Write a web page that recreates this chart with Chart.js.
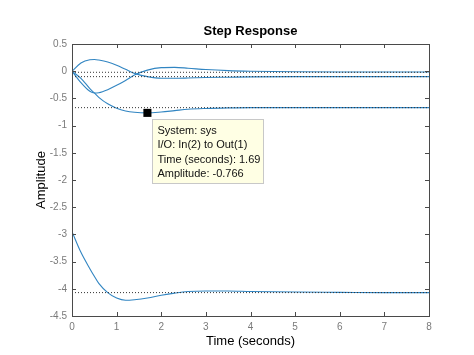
<!DOCTYPE html>
<html><head><meta charset="utf-8">
<script src="https://cdn.jsdelivr.net/npm/chart.js@4"></script>
<style>html,body{margin:0;padding:0;background:#fff;}#wrap{width:474px;height:355px;position:relative;}</style>
</head><body><div id="wrap"><canvas id="c" width="474" height="355"></canvas></div>
<script>
const times   = [0, 0.2, 0.4, 0.5, 0.6, 0.8, 1.0, 1.2, 1.4, 1.69, 2.0, 2.3, 2.6, 3.0, 3.5, 4, 5, 6, 7, 8];
const seriesA = [0, 0.15, 0.21, 0.215, 0.205, 0.17, 0.11, 0.035, -0.04, -0.10, -0.13, -0.13, -0.125, -0.115, -0.11, -0.105, -0.10, -0.10, -0.10, -0.10];
const seriesB = [0, -0.21, -0.37, -0.40, -0.395, -0.34, -0.26, -0.17, -0.07, 0.02, 0.065, 0.07, 0.055, 0.03, 0.01, 0.0, -0.01, -0.015, -0.015, -0.015];
const seriesC = [0, -0.13, -0.32, -0.40, -0.48, -0.60, -0.68, -0.73, -0.755, -0.766, -0.75, -0.725, -0.70, -0.685, -0.675, -0.67, -0.67, -0.67, -0.67, -0.67];
const seriesD = [-2.95, -3.33, -3.63, -3.77, -3.90, -4.07, -4.17, -4.21, -4.20, -4.17, -4.12, -4.08, -4.05, -4.04, -4.04, -4.05, -4.06, -4.065, -4.07, -4.07];
const steadyValues = [-0.02, -0.10, -0.67, -4.07];
const xTicks = [0, 1, 2, 3, 4, 5, 6, 7, 8];
const yTicks = [0.5, 0, -0.5, -1, -1.5, -2, -2.5, -3, -3.5, -4, -4.5];
const markerTime = [1.69];
const markerValue = [-0.766];
const tipLines = ['System: sys', 'I/O: In(2) to Out(1)', 'Time (seconds): 1.69', 'Amplitude: -0.766'];

const FONT = "'Liberation Sans', Arial, Helvetica, sans-serif";
const BLUE = '#3185c2';
const pts = v => times.map((t, i) => ({x: t, y: v[i]}));

const datasets = [];
steadyValues.forEach(v => datasets.push({
  data: [{x: times[0], y: v}, {x: times[times.length - 1], y: v}],
  borderColor: '#333', borderWidth: 1, borderDash: [1, 2], pointRadius: 0, tension: 0
}));
[seriesA, seriesB, seriesC, seriesD].forEach(s => datasets.push({
  data: pts(s), borderColor: BLUE, borderWidth: 1.1, pointRadius: 0,
  cubicInterpolationMode: 'monotone'
}));
datasets.push({
  data: markerTime.map((t, i) => ({x: t, y: markerValue[i]})),
  order: -1,
  showLine: false, pointStyle: 'rect', pointRadius: 5.7, backgroundColor: '#000', borderColor: '#000', borderWidth: 0
});

const decor = {
  id: 'decor',
  afterDatasetsDraw(chart) {
    const ctx = chart.ctx, a = chart.chartArea, xs = chart.scales.x, ys = chart.scales.y;
    ctx.save();
    ctx.strokeStyle = '#4a4a4a'; ctx.lineWidth = 1;
    ctx.strokeRect(Math.round(a.left) + 0.5, Math.round(a.top) + 0.5, Math.round(a.right - a.left), Math.round(a.bottom - a.top));
    const L = 4;
    ctx.beginPath();
    xTicks.forEach(t => {
      const px = Math.round(xs.getPixelForValue(t)) + 0.5;
      ctx.moveTo(px, a.bottom); ctx.lineTo(px, a.bottom - L);
      ctx.moveTo(px, a.top); ctx.lineTo(px, a.top + L);
    });
    yTicks.forEach(t => {
      const py = Math.round(ys.getPixelForValue(t)) + 0.5;
      ctx.moveTo(a.left, py); ctx.lineTo(a.left + L, py);
      ctx.moveTo(a.right, py); ctx.lineTo(a.right - L, py);
    });
    ctx.stroke();
    const cx = (a.left + a.right) / 2;
    ctx.fillStyle = '#000'; ctx.textAlign = 'center'; ctx.textBaseline = 'middle';
    ctx.font = 'bold 13px ' + FONT;
    ctx.fillText('Step Response', cx, 31);
    ctx.font = '13px ' + FONT;
    ctx.fillText('Time (seconds)', cx, 341);
    ctx.save();
    ctx.translate(41, (a.top + a.bottom) / 2);
    ctx.rotate(-Math.PI / 2);
    ctx.fillText('Amplitude', 0, 0);
    ctx.restore();
    const mx = xs.getPixelForValue(markerTime[0]);
    const my = ys.getPixelForValue(markerValue[0]);
    const bx = Math.round(mx + 5) + 0.5, by = Math.round(my + 6) + 0.5, bw = 111, bh = 64;
    ctx.fillStyle = '#ffffe4'; ctx.strokeStyle = '#c8c8c8';
    ctx.fillRect(bx, by, bw, bh); ctx.strokeRect(bx, by, bw, bh);
    ctx.fillStyle = '#111'; ctx.textAlign = 'left'; ctx.textBaseline = 'middle';
    ctx.font = '11px ' + FONT;
    tipLines.forEach((s, i) => ctx.fillText(s, bx + 5, by + 11.5 + i * 14.3));
    ctx.restore();
  }
};

new Chart(document.getElementById('c'), {
  type: 'line',
  data: {datasets},
  options: {
    responsive: false, animation: false, events: [],
    layout: {padding: {left: 0, right: 45, top: 44, bottom: 0}},
    plugins: {legend: {display: false}, tooltip: {enabled: false}, title: {display: false}},
    scales: {
      x: {
        type: 'linear', min: 0, max: 8,
        afterFit: s => { s.height = 39; },
        afterBuildTicks: s => { s.ticks = xTicks.map(v => ({value: v})); },
        grid: {display: false, drawTicks: false}, border: {display: false},
        ticks: {color: '#7a7a7a', font: {size: 10, family: FONT}, padding: 5, maxRotation: 0}
      },
      y: {
        type: 'linear', min: -4.5, max: 0.5,
        afterFit: s => { s.width = 72; },
        afterBuildTicks: s => { s.ticks = yTicks.map(v => ({value: v})); },
        grid: {display: false, drawTicks: false}, border: {display: false},
        ticks: {color: '#7a7a7a', font: {size: 10, family: FONT}, padding: 5,
          callback: v => String(v)}
      }
    }
  },
  plugins: [decor]
});
</script></body></html>
